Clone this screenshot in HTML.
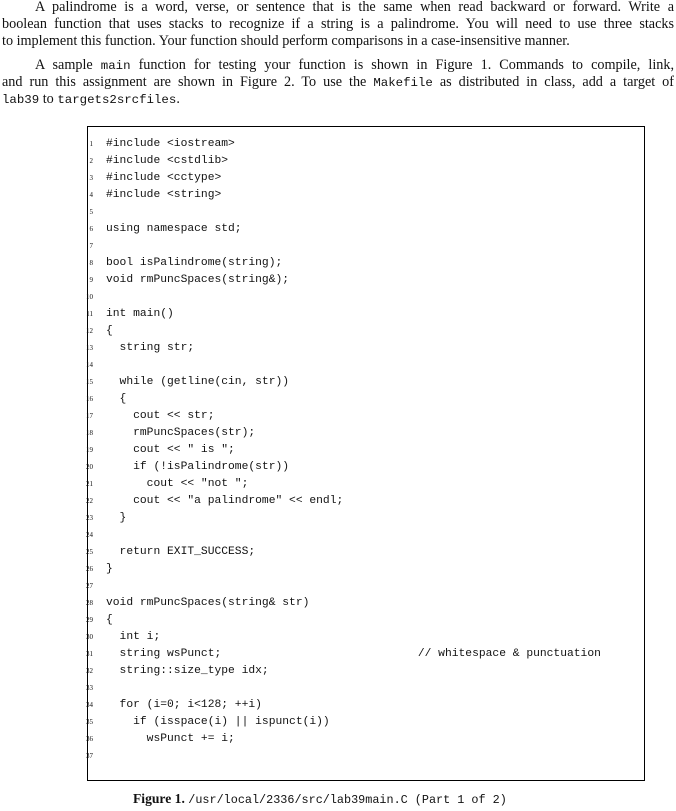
<!DOCTYPE html>
<html><head><meta charset="utf-8"><style>
body{margin:0;width:676px;height:811px;background:#fff;position:relative;font-family:"Liberation Serif",serif;color:#111;overflow:hidden}
.t{position:absolute;left:2px;width:672px;margin:0;font-size:14.2px;line-height:17px;text-align:justify;text-align-last:justify;white-space:nowrap}
.t.e{text-align-last:left}
code,.m{font-family:"Liberation Mono",monospace;font-size:12.4px}
#box{position:absolute;left:87px;top:126px;width:556px;height:653px;border:1.5px solid #000}
.l{position:absolute;left:0;height:17px;font-family:"Liberation Mono",monospace;font-size:11.3px;white-space:pre;line-height:17px}
.n{position:absolute;width:93px;text-align:right;font-family:"Liberation Serif",serif;font-size:7px;line-height:17px}
#cap{position:absolute;left:133px;top:791px;font-size:13.6px}
#cap .m{font-size:11.8px}
</style></head><body>
<div class="t" style="top:-1px;left:35px;width:639px">A palindrome is a word, verse, or sentence that is the same when read backward or forward. Write a</div>
<div class="t" style="top:16px">boolean function that uses stacks to recognize if a string is a palindrome. You will need to use three stacks</div>
<div class="t e" style="top:33px">to implement this function. Your function should perform comparisons in a case-insensitive manner.</div>
<div class="t" style="top:57px;left:35px;width:639px">A sample <code>main</code> function for testing your function is shown in Figure 1. Commands to compile, link,</div>
<div class="t" style="top:74px">and run this assignment are shown in Figure 2. To use the <code>Makefile</code> as distributed in class, add a target of</div>
<div class="t e" style="top:91px"><code>lab39</code> to <code>targets2srcfiles</code>.</div>
<div id="box"></div>
<div id="code"></div>
<div id="cap"><b>Figure 1.</b> <span class="m">/usr/local/2336/src/lab39main.C (Part 1 of 2)</span></div>
<script>
var L=["#include <iostream>","#include <cstdlib>","#include <cctype>","#include <string>","","using namespace std;","","bool isPalindrome(string);","void rmPuncSpaces(string&);","","int main()","{","  string str;","","  while (getline(cin, str))","  {","    cout << str;","    rmPuncSpaces(str);","    cout << \" is \";","    if (!isPalindrome(str))","      cout << \"not \";","    cout << \"a palindrome\" << endl;","  }","","  return EXIT_SUCCESS;","}","","void rmPuncSpaces(string& str)","{","  int i;","  string wsPunct;                             // whitespace & punctuation","  string::size_type idx;","","  for (i=0; i<128; ++i)","    if (isspace(i) || ispunct(i))","      wsPunct += i;",""];
var h="";for(var i=0;i<L.length;i++){var t=136+i*17;h+='<div class="n" style="top:'+t+'px">'+(i+1)+'</div><div class="l" style="left:106px;top:'+t+'px">'+L[i].replace(/&/g,"&amp;").replace(/</g,"&lt;")+'</div>';}
document.getElementById("code").innerHTML=h;
</script>
</body></html>
